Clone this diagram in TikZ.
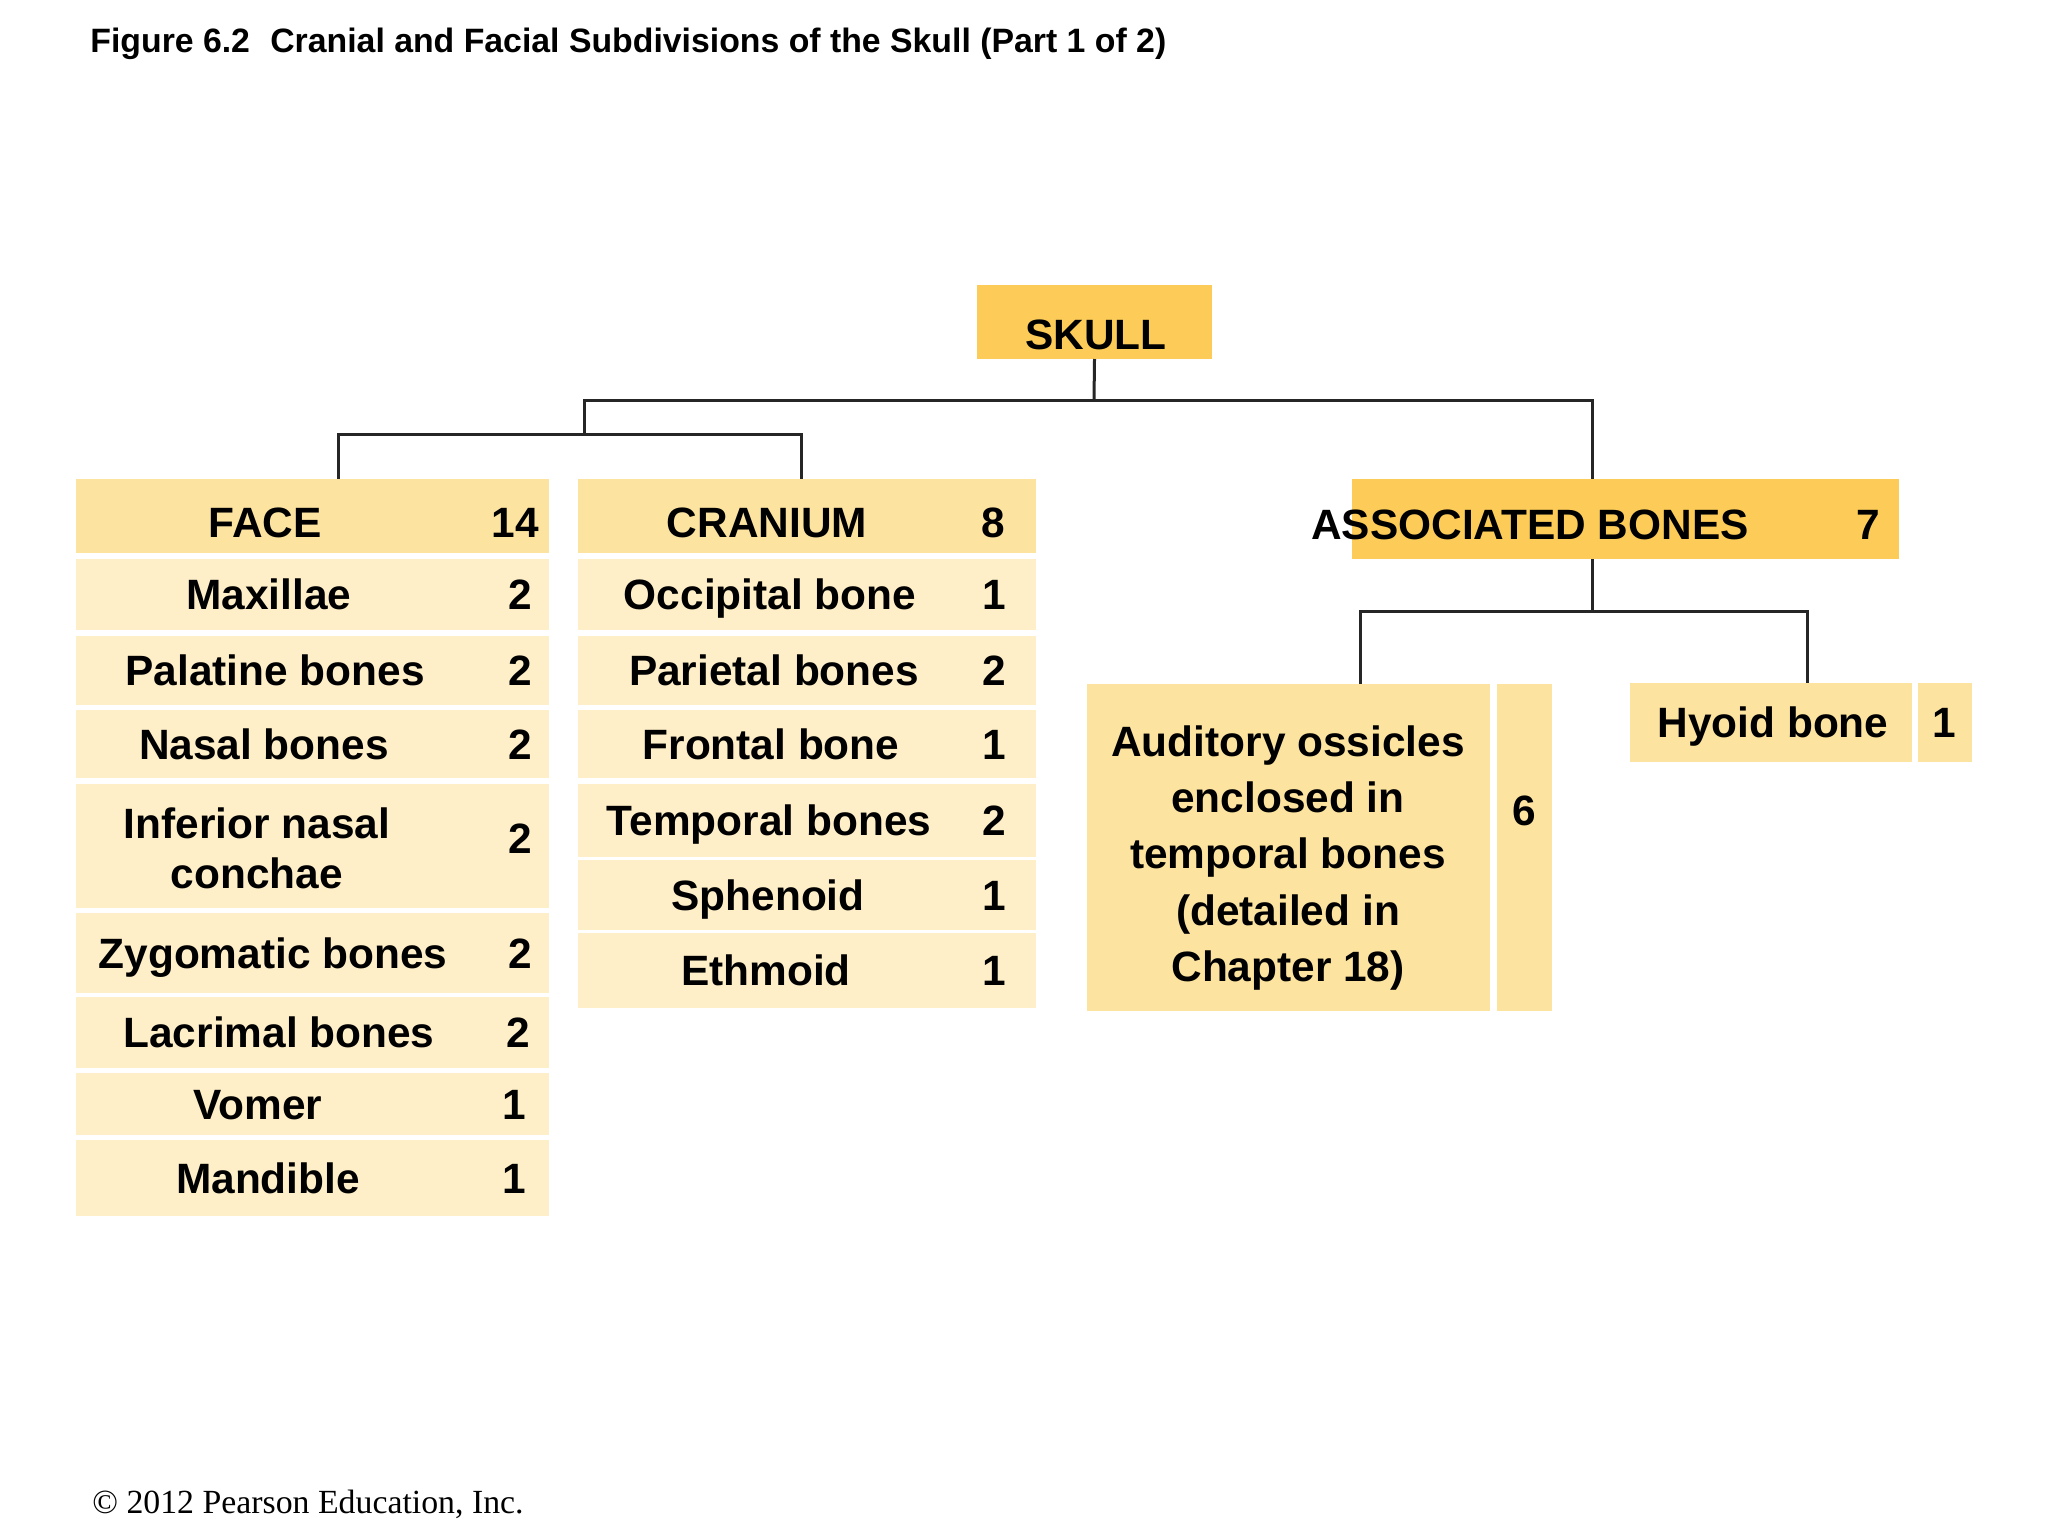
\documentclass[tikz,border=0pt]{standalone}
\usepackage{fontspec}
\setmainfont{Liberation Sans}
\newfontfamily\pearsonfont{Liberation Serif}
\usetikzlibrary{fit, calc}

\definecolor{skullgold}{RGB}{253,204,88}
\definecolor{headtan}{RGB}{252,227,160}
\definecolor{rowtan}{RGB}{254,239,201}

\tikzset{
  box/.style={inner sep=0pt, outer sep=0pt, draw=none},
  lbl/.style={font=\bfseries\fontsize{21.2}{25}\selectfont, inner sep=0pt, text height=15.2pt, text depth=0pt},
  lbltwo/.style={font=\bfseries\fontsize{21.2}{24.8}\selectfont, inner sep=0pt, align=center},
  lblfive/.style={font=\bfseries\fontsize{21.2}{28.1}\selectfont, inner sep=0pt, align=center},
  link/.style={line width=1.5pt, black!85}
}

\begin{document}
\begin{tikzpicture}[x=0.5pt, y=-0.5pt]

\fill[white] (0,0) rectangle (2048,1536);
\useasboundingbox (0,0) rectangle (2048,1536);

\node[anchor=west, inner sep=0pt, text height=12pt, text depth=0pt, font=\bfseries\fontsize{16.9}{20}\selectfont] (title) at (90,40.5) {Figure 6.2\hspace{0.6em}Cranial and Facial Subdivisions of the Skull (Part 1 of 2)};

\node[box, fill=skullgold, fit={(977,285) (1212,359)}] (skull) {};
\node[lbl] (skull-t) at (1096,334) {SKULL};

\node[box, fill=headtan, fit={(76,479) (549,553)}] (face) {};
\node[lbl] (face-t) at (265,522) {FACE};
\node[lbl] (face-c) at (515,522) {14};
\node[box, fill=headtan, fit={(578,479) (1036,553)}] (cranium) {};
\node[lbl] (cranium-t) at (767,522) {CRANIUM};
\node[lbl] (cranium-c) at (993,522) {8};

\foreach \n/\t/\c/\ya/\yb/\xt/\xc in {max/Maxillae/2/559/630/269/520, pal/Palatine bones/2/636/705/275/520, nas/Nasal bones/2/710/778/264/520, zyg/Zygomatic bones/2/913/993/273/520, lac/Lacrimal bones/2/997/1068/279/518, vom/Vomer/1/1073/1135/258/514, man/Mandible/1/1140/1216/268/514}
{
  \node[box, fill=rowtan, fit={(76,\ya) (549,\yb)}] (\n) {};
  \node[lbl] (\n-t) at (\xt,{(\ya+\yb)/2}) {\t};
  \node[lbl] (\n-c) at (\xc,{(\ya+\yb)/2}) {\c};
}
\node[box, fill=rowtan, fit={(76,784) (549,908)}] (inf) {};
\node[lbltwo] (inf-t) at (257,848.5) {Inferior nasal\\conchae};
\node[lbl] (inf-c) at (520,838.5) {2};

\foreach \n/\t/\c/\ya/\yb/\xt in {occ/Occipital bone/1/559/630/770, par/Parietal bones/2/636/705/774, fro/Frontal bone/1/710/778/771, tem/Temporal bones/2/784/857/769, sph/Sphenoid/1/860/930/768, eth/Ethmoid/1/933/1008/766}
{
  \node[box, fill=rowtan, fit={(578,\ya) (1036,\yb)}] (\n) {};
  \node[lbl] (\n-t) at (\xt,{(\ya+\yb)/2}) {\t};
  \node[lbl] (\n-c) at (994,{(\ya+\yb)/2}) {\c};
}

\node[box, fill=skullgold, fit={(1352,479) (1899,559)}] (assoc) {};
\node[lbl] (assoc-t) at (1530,524) {ASSOCIATED BONES};
\node[lbl] (assoc-c) at (1868,524) {7};

\node[box, fill=headtan, fit={(1087,684) (1490,1011)}] (audit) {};
\node[box, fill=headtan, fit={(1497,684) (1552,1011)}] (audit-n) {};
\node[lblfive] (audit-t) at (1288,858) {Auditory ossicles\\enclosed in\\temporal bones\\(detailed in\\Chapter 18)};
\node[lbl] (audit-c) at (1524,810) {6};

\node[box, fill=headtan, fit={(1630,683) (1912,762)}] (hyoid) {};
\node[box, fill=headtan, fit={(1918,683) (1972,762)}] (hyoid-n) {};
\node[lbl] (hyoid-t) at (1773,722) {Hyoid bone};
\node[lbl] (hyoid-c) at (1944,722) {1};

\coordinate (hub) at (1094,400);
\coordinate (facehub) at (584,434);
\coordinate (assochub) at (1592,611);

\draw[link] (skull.south) -- (hub);
\draw[link] (hub) -| (facehub);
\draw[link] (hub) -| ([xshift=-16.75pt]assoc.north);
\draw[link] (facehub) -| ([xshift=12.75pt]face.north);
\draw[link] (facehub) -| ([xshift=-3pt]cranium.north);
\draw[link] ([xshift=-16.75pt]assoc.south) -- (assochub);
\draw[link] (assochub) -| ([xshift=35.75pt]audit.north);
\draw[link] (assochub) -| ([xshift=18pt]hyoid.north);

\node[anchor=west, inner sep=0pt, text height=11.2pt, text depth=0pt, font=\pearsonfont\fontsize{16.9}{20}\selectfont] (copyright) at (92,1502) {© 2012 Pearson Education, Inc.};

\end{tikzpicture}
\end{document}
